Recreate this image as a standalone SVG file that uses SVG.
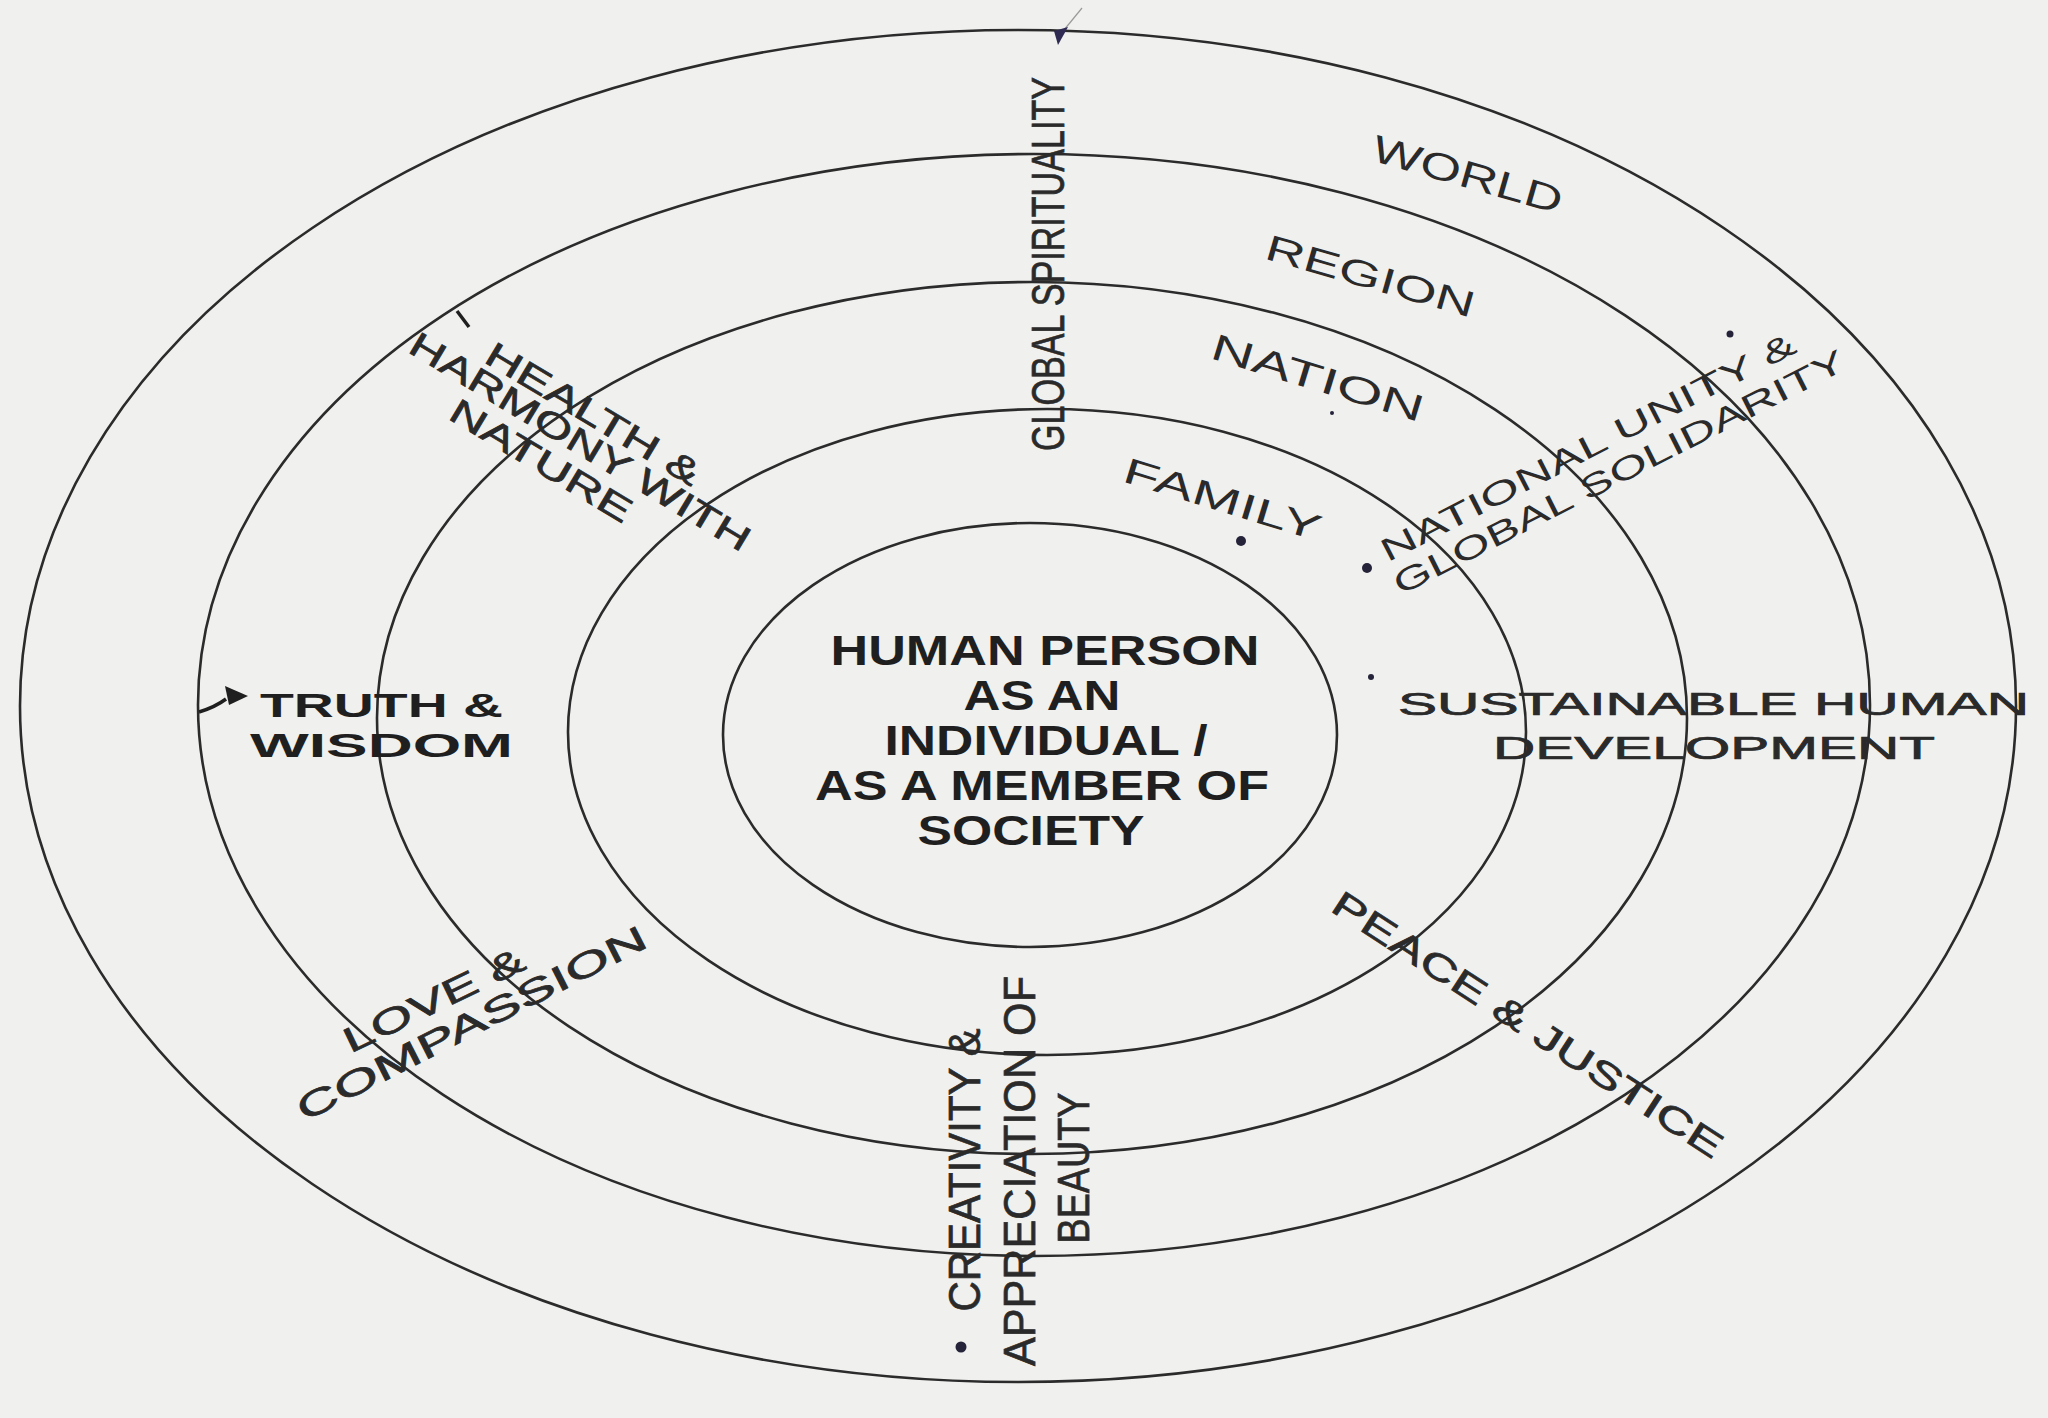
<svg xmlns="http://www.w3.org/2000/svg" width="2048" height="1418" viewBox="0 0 2048 1418">
<style>
.ring{fill:none;stroke:#2b2b2b;stroke-width:2.6}
.t{font-family:"Liberation Sans",Arial,sans-serif;fill:#2a2a2a}
.b{font-weight:bold;fill:#1f1f1f}
.m{stroke:#2a2a2a;stroke-width:0.7}
.dot{fill:#25233a}
</style>
<rect width="2048" height="1418" fill="#f0f0ee"/>

<g id="ring-world">
<ellipse class="ring" cx="1018" cy="706" rx="998" ry="676"/>
<text class="t" font-size="38" text-anchor="middle" textLength="196" lengthAdjust="spacingAndGlyphs" transform="translate(1464 187) rotate(16)">WORLD</text>
</g>
<g id="ring-region">
<ellipse class="ring" cx="1034" cy="705" rx="836" ry="551"/>
<text class="t" font-size="36" text-anchor="middle" textLength="216" lengthAdjust="spacingAndGlyphs" transform="translate(1367 288) rotate(16)">REGION</text>
</g>
<g id="ring-nation">
<ellipse class="ring" cx="1032" cy="718" rx="655" ry="436"/>
<text class="t" font-size="37" text-anchor="middle" textLength="220" lengthAdjust="spacingAndGlyphs" transform="translate(1314 390) rotate(17)">NATION</text>
</g>
<g id="ring-family">
<ellipse class="ring" cx="1047" cy="732" rx="479" ry="323"/>
<text class="t" font-size="36" text-anchor="middle" textLength="205" lengthAdjust="spacingAndGlyphs" transform="translate(1219 511) rotate(17)">FAMILY</text>
</g>
<g id="core">
<ellipse class="ring" cx="1030" cy="735" rx="307" ry="212"/>
<text class="t b" font-size="43" text-anchor="middle">
<tspan x="1051" y="665" textLength="429" lengthAdjust="spacingAndGlyphs">HUMAN PERSON</tspan>
<tspan x="1048" y="710" textLength="157" lengthAdjust="spacingAndGlyphs">AS AN</tspan>
<tspan x="1052" y="755" textLength="323" lengthAdjust="spacingAndGlyphs">INDIVIDUAL /</tspan>
<tspan x="1048" y="800" textLength="454" lengthAdjust="spacingAndGlyphs">AS A MEMBER OF</tspan>
<tspan x="1031" y="845" textLength="227" lengthAdjust="spacingAndGlyphs">SOCIETY</tspan>
</text>
</g>

<g id="value-global-spirituality">
<text class="t m" font-size="46" text-anchor="middle" textLength="374" lengthAdjust="spacingAndGlyphs" transform="translate(1064 264) rotate(-90)">GLOBAL SPIRITUALITY</text>
</g>
<g id="value-national-unity">
<text class="t" font-size="32" text-anchor="middle" textLength="462" lengthAdjust="spacingAndGlyphs" transform="translate(1593 457) rotate(-27.2)">NATIONAL UNITY &amp;</text>
<text class="t" font-size="32" text-anchor="middle" textLength="502" lengthAdjust="spacingAndGlyphs" transform="translate(1624 482) rotate(-26.9)">GLOBAL SOLIDARITY</text>
</g>
<g id="value-sustainable">
<text class="t m" font-size="32" textLength="631" lengthAdjust="spacingAndGlyphs" x="1398" y="715">SUSTAINABLE HUMAN</text>
<text class="t m" font-size="32" textLength="442" lengthAdjust="spacingAndGlyphs" x="1493" y="759">DEVELOPMENT</text>
</g>
<g id="value-peace">
<text class="t m" font-size="36" text-anchor="middle" textLength="458" lengthAdjust="spacingAndGlyphs" transform="translate(1521 1035) rotate(33)">PEACE &amp; JUSTICE</text>
</g>
<g id="value-creativity">
<text class="t m" font-size="45" text-anchor="middle" textLength="283" lengthAdjust="spacingAndGlyphs" transform="translate(980 1170) rotate(-90)">CREATIVITY &amp;</text>
<text class="t m" font-size="45" text-anchor="middle" textLength="390" lengthAdjust="spacingAndGlyphs" transform="translate(1035 1171) rotate(-90)">APPRECIATION OF</text>
<text class="t m" font-size="45" text-anchor="middle" textLength="151" lengthAdjust="spacingAndGlyphs" transform="translate(1089 1168) rotate(-90)">BEAUTY</text>
</g>
<g id="value-love">
<text class="t m" font-size="35" text-anchor="middle" textLength="197" lengthAdjust="spacingAndGlyphs" transform="translate(439 1011) rotate(-25.7)">LOVE &amp;</text>
<text class="t m" font-size="35" text-anchor="middle" textLength="388" lengthAdjust="spacingAndGlyphs" transform="translate(477 1034) rotate(-27)">COMPASSION</text>
</g>
<g id="value-truth">
<text class="t b" font-size="34" x="260" y="717" textLength="243" lengthAdjust="spacingAndGlyphs">TRUTH &amp;</text>
<text class="t b" font-size="34" x="250" y="757" textLength="263" lengthAdjust="spacingAndGlyphs">WISDOM</text>
</g>
<g id="value-health">
<text class="t m" font-size="35" text-anchor="middle" textLength="244" lengthAdjust="spacingAndGlyphs" transform="translate(587 424) rotate(31)">HEALTH &amp;</text>
<text class="t m" font-size="35" text-anchor="middle" textLength="391" lengthAdjust="spacingAndGlyphs" transform="translate(574 452) rotate(31)">HARMONY WITH</text>
<text class="t m" font-size="35" text-anchor="middle" textLength="206" lengthAdjust="spacingAndGlyphs" transform="translate(535 471) rotate(31)">NATURE</text>
</g>

<g id="connectors">
<path d="M199,712 C209,709 218,705 226,699" fill="none" stroke="#1f1f1f" stroke-width="3.5"/>
<polygon points="225,686 248,696 229,705" fill="#1f1f1f"/>
<line x1="457" y1="311" x2="469" y2="327" stroke="#1f1f1f" stroke-width="3.5"/>
<line x1="1064" y1="30" x2="1082" y2="8" stroke="#9a9a9a" stroke-width="1.2"/>
<polygon points="1054,31 1068,27 1058,45" fill="#2f2a52"/>
<circle class="dot" cx="1241" cy="541" r="5"/>
<circle class="dot" cx="1332" cy="413" r="2"/>
<circle class="dot" cx="1367" cy="568" r="5"/>
<circle class="dot" cx="1730" cy="334" r="3.5"/>
<circle class="dot" cx="1371" cy="677" r="3"/>
<circle class="dot" cx="961" cy="1347" r="5.5"/>
</g>
</svg>
